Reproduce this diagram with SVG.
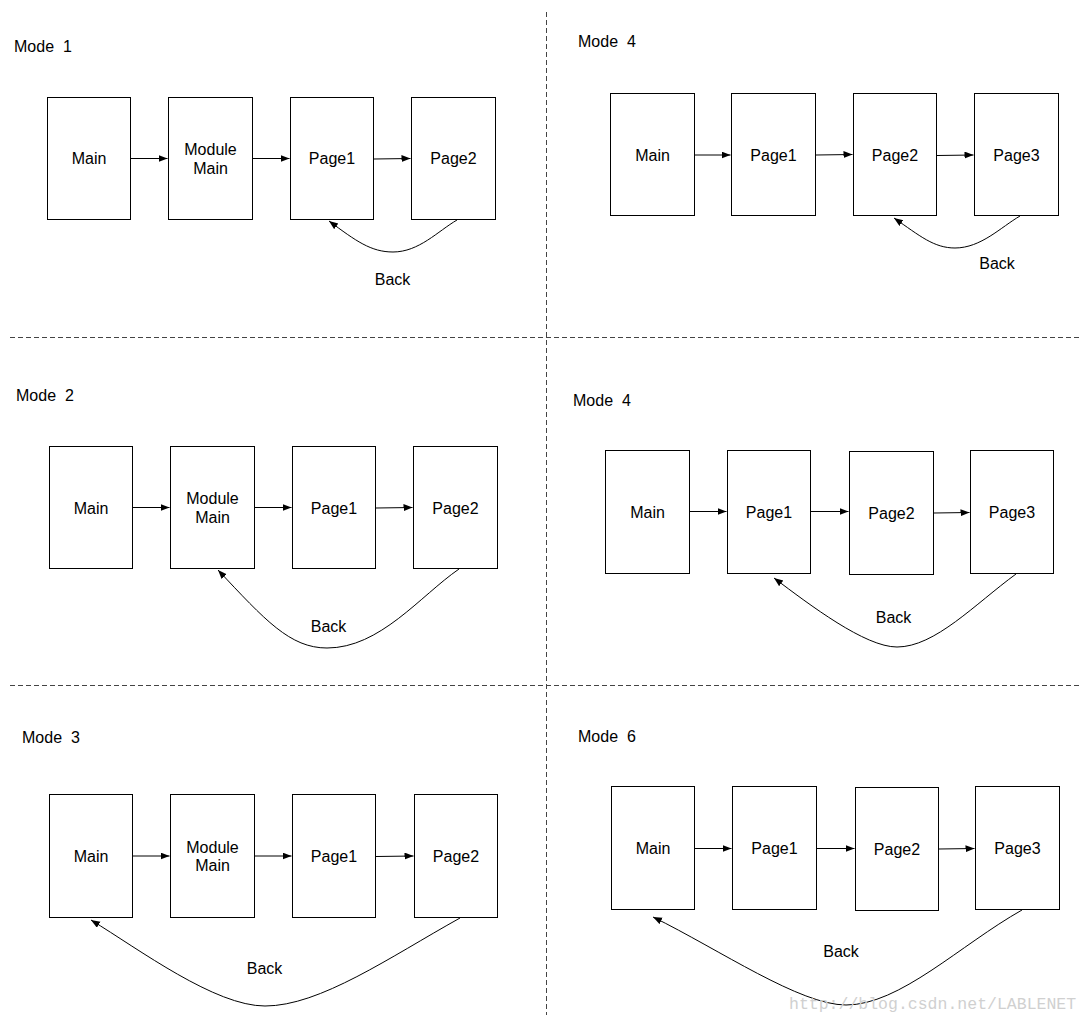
<svg xmlns="http://www.w3.org/2000/svg" width="1089" height="1024" viewBox="0 0 1089 1024">
<style>
.box{fill:#fff;stroke:#000;stroke-width:1}
.t{font-family:"Liberation Sans",Arial,Helvetica,sans-serif;font-size:16px;fill:#000}
.c{text-anchor:middle}
.title{font-family:"Liberation Sans",Arial,Helvetica,sans-serif;font-size:16px;fill:#000;white-space:pre}
.e{fill:none;stroke:#000;stroke-width:1;marker-end:url(#ah)}
.sep{fill:none;stroke:#444;stroke-width:1;stroke-dasharray:5 3}
.wm{font-family:"Liberation Mono","Courier New",monospace;font-size:16.5px;fill:#d0d0d0}
</style>
<defs>
<marker id="ah" markerUnits="userSpaceOnUse" markerWidth="11" markerHeight="9" refX="9" refY="3.5" orient="auto">
<path d="M0,0 L9,3.5 L0,7 z" fill="#000"/>
</marker>
</defs>
<rect width="1089" height="1024" fill="#fff"/>
<g id="separators">
<line class="sep" x1="546.5" y1="12" x2="546.5" y2="1015"/>
<line class="sep" x1="10" y1="337.5" x2="1080" y2="337.5"/>
<line class="sep" x1="10" y1="685.5" x2="1080" y2="685.5"/>
</g>
<g id="titles">
<text class="title" x="14" y="52" xml:space="preserve">Mode  1</text>
<text class="title" x="578" y="47" xml:space="preserve">Mode  4</text>
<text class="title" x="16" y="401" xml:space="preserve">Mode  2</text>
<text class="title" x="573" y="406" xml:space="preserve">Mode  4</text>
<text class="title" x="22" y="743" xml:space="preserve">Mode  3</text>
<text class="title" x="578" y="742" xml:space="preserve">Mode  6</text>
</g>
<!-- Mode 1 -->
<g id="m1-main"><rect class="box" x="47.5" y="97.5" width="83" height="122"/><text class="t c" x="89" y="164">Main</text></g>
<g id="m1-module"><rect class="box" x="168.5" y="97.5" width="84" height="122"/><text class="t c" x="210.5" y="155">Module</text><text class="t c" x="210.5" y="174">Main</text></g>
<g id="m1-page1"><rect class="box" x="290.5" y="97.5" width="83" height="122"/><text class="t c" x="332" y="164">Page1</text></g>
<g id="m1-page2"><rect class="box" x="411.5" y="97.5" width="84" height="122"/><text class="t c" x="453.5" y="164">Page2</text></g>
<!-- Mode 4 top -->
<g id="m4a-main"><rect class="box" x="610.5" y="93.5" width="84" height="122"/><text class="t c" x="652.5" y="161">Main</text></g>
<g id="m4a-page1"><rect class="box" x="731.5" y="93.5" width="84" height="122"/><text class="t c" x="773.5" y="161">Page1</text></g>
<g id="m4a-page2"><rect class="box" x="853.5" y="93.5" width="83" height="122"/><text class="t c" x="895" y="161">Page2</text></g>
<g id="m4a-page3"><rect class="box" x="974.5" y="93.5" width="84" height="122"/><text class="t c" x="1016.5" y="161">Page3</text></g>
<!-- Mode 2 -->
<g id="m2-main"><rect class="box" x="49.5" y="446.5" width="83" height="122"/><text class="t c" x="91" y="513.5">Main</text></g>
<g id="m2-module"><rect class="box" x="170.5" y="446.5" width="84" height="122"/><text class="t c" x="212.5" y="504">Module</text><text class="t c" x="212.5" y="523">Main</text></g>
<g id="m2-page1"><rect class="box" x="292.5" y="446.5" width="83" height="122"/><text class="t c" x="334" y="513.5">Page1</text></g>
<g id="m2-page2"><rect class="box" x="413.5" y="446.5" width="84" height="122"/><text class="t c" x="455.5" y="513.5">Page2</text></g>
<!-- Mode 4 second -->
<g id="m4b-main"><rect class="box" x="605.5" y="450.5" width="84" height="123"/><text class="t c" x="647.5" y="518">Main</text></g>
<g id="m4b-page1"><rect class="box" x="727.5" y="450.5" width="83" height="123"/><text class="t c" x="769" y="518">Page1</text></g>
<g id="m4b-page2"><rect class="box" x="849.5" y="451.5" width="84" height="123"/><text class="t c" x="891.5" y="519">Page2</text></g>
<g id="m4b-page3"><rect class="box" x="970.5" y="450.5" width="83" height="123"/><text class="t c" x="1012" y="518">Page3</text></g>
<!-- Mode 3 -->
<g id="m3-main"><rect class="box" x="49.5" y="794.5" width="83" height="123"/><text class="t c" x="91" y="862">Main</text></g>
<g id="m3-module"><rect class="box" x="170.5" y="794.5" width="84" height="123"/><text class="t c" x="212.5" y="853">Module</text><text class="t c" x="212.5" y="871">Main</text></g>
<g id="m3-page1"><rect class="box" x="292.5" y="794.5" width="83" height="123"/><text class="t c" x="334" y="862">Page1</text></g>
<g id="m3-page2"><rect class="box" x="414.5" y="794.5" width="83" height="123"/><text class="t c" x="456" y="862">Page2</text></g>
<!-- Mode 6 -->
<g id="m6-main"><rect class="box" x="611.5" y="786.5" width="83" height="123"/><text class="t c" x="653" y="854">Main</text></g>
<g id="m6-page1"><rect class="box" x="732.5" y="786.5" width="84" height="123"/><text class="t c" x="774.5" y="854">Page1</text></g>
<g id="m6-page2"><rect class="box" x="855.5" y="787.5" width="83" height="123"/><text class="t c" x="897" y="855">Page2</text></g>
<g id="m6-page3"><rect class="box" x="975.5" y="786.5" width="84" height="123"/><text class="t c" x="1017.5" y="854">Page3</text></g>
<g id="connectors">
<!-- Mode 1 -->
<path class="e" d="M131,158.5 L167.5,158.5"/>
<path class="e" d="M253,158.5 L289.5,158.5"/>
<path class="e" d="M374,159 L410.5,158.5"/>
<path class="e" d="M457,220 C438,231 419,252 393,252 C371,252 356,241 329,221"/>
<!-- Mode 4 top -->
<path class="e" d="M695,155 L730.5,155"/>
<path class="e" d="M816,155 L852.5,154.5"/>
<path class="e" d="M937,155.5 L973.5,155"/>
<path class="e" d="M1020,216 C1001,227 981,248 955,248 C934,248 920,236 894,218"/>
<!-- Mode 2 -->
<path class="e" d="M133,507.5 L169.5,507.5"/>
<path class="e" d="M255,507.5 L291.5,507.5"/>
<path class="e" d="M376,508 L412.5,507.5"/>
<path class="e" d="M459,569 C420,596 380,648 327,648 C290,648 265,620 218,570"/>
<!-- Mode 4 second -->
<path class="e" d="M690,511.5 L726.5,511.5"/>
<path class="e" d="M811,511.5 L848.5,511.5"/>
<path class="e" d="M934,513 L969.5,512.5"/>
<path class="e" d="M1016,574 C975,604 935,647 897,647 C865,647 810,605 774,578"/>
<!-- Mode 3 -->
<path class="e" d="M133,856 L169.5,856"/>
<path class="e" d="M255,856 L291.5,856"/>
<path class="e" d="M376,856.5 L413.5,856"/>
<path class="e" d="M460,918 C390,957 320,1006 265,1006 C215,1006 140,950 91,920"/>
<!-- Mode 6 -->
<path class="e" d="M695,848.5 L731.5,848.5"/>
<path class="e" d="M817,848.5 L854.5,848.5"/>
<path class="e" d="M939,849 L974.5,848.5"/>
<path class="e" d="M1022,910 C960,945 900,1005 846,1005 C800,1005 720,950 653,917"/>
</g>
<g id="back-labels">
<text class="t c" x="392.5" y="285">Back</text>
<text class="t c" x="997" y="269">Back</text>
<text class="t c" x="328.5" y="632">Back</text>
<text class="t c" x="893.5" y="623">Back</text>
<text class="t c" x="264.5" y="974">Back</text>
<text class="t c" x="841" y="957">Back</text>
</g>
<text class="wm" x="789" y="1009">http://blog.csdn.net/LABLENET</text>
</svg>
